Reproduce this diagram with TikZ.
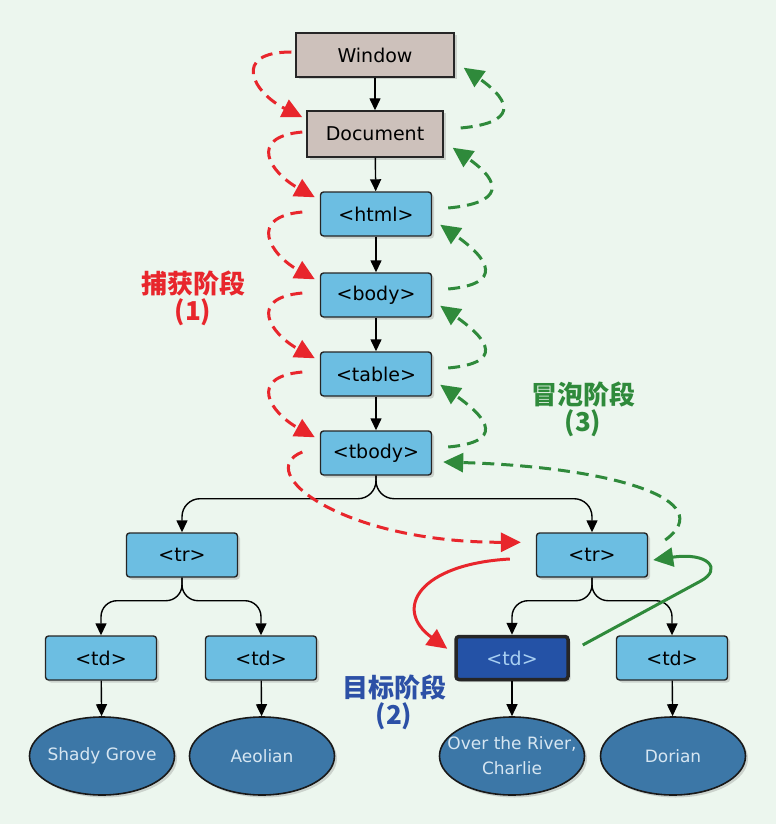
\documentclass[tikz,border=0pt]{standalone}
\usepackage{fontspec}
\setmainfont{DejaVu Sans}
\newfontfamily\cjk{Noto Sans CJK SC}
\usetikzlibrary{calc,arrows.meta,shapes.geometric,shadows}
\definecolor{bgcol}{HTML}{ECF6EE}
\definecolor{wingray}{HTML}{CDC1BB}
\definecolor{tagblue}{HTML}{6CBEE2}
\definecolor{targetblue}{HTML}{2452A6}
\definecolor{targettext}{HTML}{A9D0F2}
\definecolor{leafblue}{HTML}{3C77A7}
\definecolor{leaftext}{HTML}{D6E6F2}
\definecolor{capred}{HTML}{E8262C}
\definecolor{bubgreen}{HTML}{2F8A3B}
\definecolor{tgtlabel}{HTML}{2C50A6}
\tikzset{
	tag/.style={draw=black!85, line width=1.4pt, rounded corners=3pt, fill=tagblue, minimum width=111pt, minimum height=44pt, inner sep=0pt, font=\fontsize{19}{22}\selectfont, drop shadow={shadow xshift=2.5pt, shadow yshift=-2.5pt, opacity=0.3}},
	wintag/.style={tag, rounded corners=0pt, fill=wingray},
	targettag/.style={tag, fill=targetblue, text=targettext, line width=3.5pt, minimum width=112pt, minimum height=43pt},
	leaf/.style={ellipse, draw=black!90, line width=1.6pt, fill=leafblue, text=leaftext, minimum width=145pt, minimum height=78pt, inner xsep=-16pt, inner ysep=0pt, align=center, font=\fontsize{17}{25}\selectfont, drop shadow={shadow xshift=2.5pt, shadow yshift=-2.5pt, opacity=0.3}},
	tree/.style={line width=1.4pt, -{Triangle[length=12pt,width=11pt]}},
	capture/.style={draw=capred, line width=3pt, dash pattern=on 12pt off 7pt, -{Triangle[length=20pt,width=19pt]}},
	capturesolid/.style={capture, solid},
	bubble/.style={draw=bubgreen, line width=3pt, dash pattern=on 12pt off 7pt, -{Triangle[length=20pt,width=19pt]}},
	bubblesolid/.style={bubble, solid},
	phase/.style={font=\cjk\bfseries\fontsize{26}{27}\selectfont, align=center},
}

\begin{document}
\begin{tikzpicture}[x=1pt,y=-1pt]
			%%%%% START %%%%%
			
			\fill[bgcol] (0,0) rectangle (776,824);
			\useasboundingbox (0,0) rectangle (776,824);
			
			\node[wintag, minimum width=158pt, minimum height=44pt] (win) at (375,55) {Window};
			\node[wintag, minimum width=136pt, minimum height=46pt] (doc) at (375,134) {Document};
			\node[tag] (html) at (376,214) {<html>};
			\node[tag] (body) at (376,295) {<body>};
			\node[tag] (table) at (376,374) {<table>};
			\node[tag] (tbody) at (376,453) {<tbody>};
			
			\node[tag] (trl) at (182,555) {<tr>};
			\node[tag] (trr) at (592,555) {<tr>};
			
			\node[tag] (td1) at (101,658) {<td>};
			\node[tag] (td2) at (261,658) {<td>};
			\node[targettag] (tgt) at (512,658) {<td>};
			\node[tag] (td4) at (672,658) {<td>};
			
			\node[leaf] (shady) at (102,756) {Shady Grove};
			\node[leaf] (aeolian) at (262,756) {Aeolian};
			\node[leaf] (river) at (512,756) {Over the River,\\Charlie};
			\node[leaf] (dorian) at (673,756) {Dorian};
			
			% tree
			\draw[tree] (win) -- (doc);
			\draw[tree] (doc) -- (html);
			\draw[tree] (html) -- (body);
			\draw[tree] (body) -- (table);
			\draw[tree] (table) -- (tbody);
			\draw[tree, rounded corners=18pt] (tbody.south) -- ++(0,23) -| (trl.north);
			\draw[tree, rounded corners=18pt] (tbody.south) -- ++(0,23) -| (trr.north);
			\draw[tree, rounded corners=16pt] (trl.south) -- ++(0,23) -| (td1.north);
			\draw[tree, rounded corners=16pt] (trl.south) -- ++(0,23) -| (td2.north);
			\draw[tree, rounded corners=16pt] (trr.south) -- ++(0,23) -| (tgt.north);
			\draw[tree, rounded corners=16pt] (trr.south) -- ++(0,23) -| (td4.north);
			\draw[tree] (td1) -- (shady);
			\draw[tree] (td2) -- (aeolian);
			\draw[tree] (tgt) -- (river);
			\draw[tree] (td4) -- (dorian);
			
			% capture
			\draw[capture] ($(win.west)+(-4,-3)$) .. controls +(-60,0) and +(-50,-25) .. ($(doc.north west)+(-4,7)$);
			\draw[capture] ($(doc.west)+(-4,-2)$) .. controls +(-55,5) and +(-45,-25) .. ($(html.north west)+(-5,6)$);
			\draw[capture] ($(doc.west |- html.west)+(-4,-2)$) .. controls +(-55,5) and +(-45,-25) .. ($(body.north west)+(-5,7)$);
			\draw[capture] ($(doc.west |- body.west)+(-4,-2)$) .. controls +(-55,5) and +(-45,-25) .. ($(table.north west)+(-5,7)$);
			\draw[capture] ($(doc.west |- table.west)+(-4,-2)$) .. controls +(-55,5) and +(-45,-25) .. ($(tbody.north west)+(-5,7)$);
			\draw[capture] ($(doc.west |- tbody.west)+(-4,-1)$) .. controls +(-50,20) and +(-180,0) .. ($(trr.north west)+(-15,10)$);
			\draw[capturesolid] ($(trr.west)+(-26,4)$) .. controls +(-90,5) and +(-55,-40) .. ($(tgt.north west)+(-7,14)$);
			
			% bubble
			\draw[bubblesolid] ($(tgt.east)+(13,-13)$) -- ++(118,-64) .. controls +(22,-12) and +(55,-8) .. ($(trr.east)+(5,5)$);
			\draw[bubble] ($(trr.east)+(17,-15)$) .. controls +(55,-40) and +(170,5) .. ($(tbody.east)+(11,9)$);
			\draw[bubble] ($(tbody.east)+(16,-6)$) .. controls +(55,-5) and +(50,35) .. ($(table.south east)+(8,-12)$);
			\draw[bubble] ($(table.east)+(16,-6)$) .. controls +(55,-5) and +(50,35) .. ($(body.south east)+(8,-12)$);
			\draw[bubble] ($(body.east)+(16,-6)$) .. controls +(55,-5) and +(50,35) .. ($(html.south east)+(8,-12)$);
			\draw[bubble] ($(html.east)+(16,-6)$) .. controls +(55,-5) and +(50,35) .. ($(doc.south east)+(9,-10)$);
			\draw[bubble] ($(doc.east)+(17,-6)$) .. controls +(55,-5) and +(50,35) .. ($(win.south east)+(9,-10)$);
			
			% phase labels
			\node[phase, text=capred] (caplabel) at (193,298) {捕获阶段\\(1)};
			\node[phase, text=bubgreen] (bublabel) at (583,409) {冒泡阶段\\(3)};
			\node[phase, text=tgtlabel] (tgtlabel) at (394,702) {目标阶段\\(2)};
			
			%%%%% END %%%%%
\end{tikzpicture}
\end{document}
